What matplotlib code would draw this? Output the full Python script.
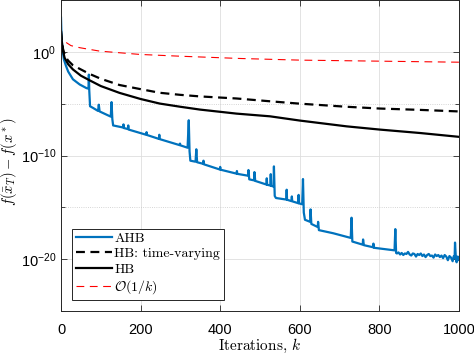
import matplotlib
matplotlib.use("Agg")
import matplotlib.pyplot as plt
import numpy as np
from matplotlib.ticker import FixedLocator, FixedFormatter, NullFormatter

plt.rcParams["mathtext.fontset"] = "cm"

# AHB: iteration and log10 of the gap (spikes included)
ahb_k = [0, 1, 3, 7, 12, 18, 30, 47, 64, 69, 70, 71, 73, 80, 93, 95, 97,
         125, 127, 129, 131, 156, 157, 158, 168, 169, 170, 214, 215, 216,
         246, 247, 248, 298, 299, 300, 318, 321, 323, 325, 338, 340, 342,
         357, 358, 359, 399, 400, 401, 441, 442, 443, 470, 471, 473, 485,
         486, 488, 516, 517, 518, 526, 527, 528, 534, 535, 537, 540, 566,
         567, 568, 579, 580, 581, 596, 597, 598, 606, 608, 610, 613, 626,
         627, 629, 645, 646, 648, 684, 728, 730, 732, 758, 759, 761, 784,
         785, 786, 838, 840, 842,
         844, 848, 852, 856, 860, 864, 868, 872, 876, 880, 884, 888, 892,
         896, 900, 904, 908, 912, 916, 920, 924, 928, 932, 936, 940, 944,
         948, 952, 956, 960, 964, 968, 972, 976, 980, 984, 987, 989, 990,
         992, 994, 996, 998, 1000]
ahb_log = [3.3, 1.9, 0.5, -0.7, -1.3, -1.9, -2.65, -3.15, -3.5, -3.55, -2.2,
           -3.7, -5.25, -5.4, -5.7, -5.1, -5.75,
           -6.25, -4.85, -6.5, -7.1, -7.3, -7.0, -7.35, -7.45, -7.1, -7.5,
           -8.0, -7.75, -8.02,
           -8.4, -8.0, -8.42, -9.0, -8.85, -9.02, -9.25, -6.6, -9.6, -10.5,
           -10.6, -9.4, -10.65,
           -10.8, -10.5, -10.85, -11.35, -11.1, -11.37, -11.75, -11.5, -11.77,
           -11.95, -11.4, -12.3, -12.4,
           -11.6, -12.45, -12.8, -12.2, -12.82, -12.9, -11.8, -12.92, -13.0,
           -11.05, -13.9, -14.1, -14.25,
           -13.3, -14.27, -14.4, -13.95, -14.42, -14.6, -13.8, -14.62, -14.7,
           -12.27, -15.5, -16.2, -16.4,
           -15.2, -16.6, -16.9, -16.4, -17.2, -17.5, -17.95, -16.0, -18.3,
           -18.6, -18.1, -18.65, -18.85,
           -18.5, -18.9, -19.15, -17.1, -19.4,
           -19.45, -19.35, -19.55, -19.4, -19.6, -19.45, -19.5, -19.3, -19.55,
           -19.65, -19.45, -19.5, -19.75,
           -19.5, -19.6, -19.45, -19.7, -19.55, -19.8, -19.6, -19.5, -19.7,
           -19.65, -19.85, -19.55, -19.7,
           -19.6, -19.8, -19.65, -19.9, -19.6, -19.75, -20.1, -19.7, -19.85,
           -20.2, -19.7, -19.9, -18.4,
           -19.8, -20.3, -19.75, -20.1, -19.8]

# HB with time-varying parameters
hbtv_k = [0, 2, 5, 10, 18, 30, 50, 70, 100, 147, 200, 248, 300, 349, 441,
          525, 600, 718, 801, 902, 1000]
hbtv_log = [2.0, 1.2, 0.3, -0.4, -0.85, -1.3, -1.7, -2.1, -2.6, -3.2, -3.6,
            -3.95, -4.15, -4.3, -4.5, -4.77, -5.0, -5.3, -5.47, -5.6, -5.75]

# HB
hb_k = [0, 2, 5, 9, 18, 30, 50, 72, 100, 147, 200, 248, 300, 349, 441, 525,
        600, 718, 801, 902, 1000]
hb_log = [2.0, 1.0, 0.1, -0.57, -1.2, -1.7, -2.3, -2.75, -3.3, -3.96, -4.55,
          -4.99, -5.3, -5.57, -5.96, -6.22, -6.63, -7.19, -7.5, -7.83, -8.2]

# O(1/k) reference
ref_k = [13, 25, 47, 97, 198, 298, 449, 600, 801, 1000]
ref_log = [0.9, 0.6, 0.4, 0.07, -0.25, -0.42, -0.64, -0.8, -0.9, -1.0]

major_y = [1e-20, 1e-10, 1e0]
major_y_labels = [r"$\mathregular{10^{-20}}$", r"$\mathregular{10^{-10}}$",
                  r"$\mathregular{10^{0}}$"]
minor_y = [1e-25, 1e-15, 1e-5, 1e5]

serif = ["cmr10", "DejaVu Serif"]

fig = plt.figure(figsize=(4.74, 3.55), dpi=100)
ax = fig.add_axes([61 / 474, 44 / 355, 398 / 474, 311 / 355])

ax.plot(ahb_k, 10.0 ** np.array(ahb_log), color="#0072BD", lw=1.6,
        label="AHB")
ax.plot(hbtv_k, 10.0 ** np.array(hbtv_log), color="black", lw=1.6,
        ls=(0, (4, 2.5)), label="HB: time-varying")
ax.plot(hb_k, 10.0 ** np.array(hb_log), color="black", lw=1.6, label="HB")
ax.plot(ref_k, 10.0 ** np.array(ref_log), color="red", lw=0.8,
        ls=(0, (7, 5)), label=r"$\mathcal{O}(1/k)$")

ax.set_yscale("log")
ax.set_xlim(0, 1000)
ax.set_ylim(1e-25, 1e5)
ax.set_xticks([0, 200, 400, 600, 800, 1000])
ax.yaxis.set_major_locator(FixedLocator(major_y))
ax.yaxis.set_major_formatter(FixedFormatter(major_y_labels))
ax.yaxis.set_minor_locator(FixedLocator(minor_y))
ax.yaxis.set_minor_formatter(NullFormatter())

ax.grid(True, which="major", color="#dedede", lw=0.6)
ax.grid(True, which="minor", axis="y", color="#c8c8c8", lw=0.6, ls=":")
ax.set_axisbelow(True)

ax.tick_params(which="both", direction="in", top=True, right=True,
               colors="#262626", labelcolor="black", labelsize=10.5,
               width=0.6)
ax.tick_params(which="major", length=4)
ax.tick_params(which="minor", length=3)
ax.tick_params(axis="x", pad=8.5)
for lbl in ax.get_xticklabels() + ax.get_yticklabels():
    lbl.set_family("Liberation Sans")
for sp in ax.spines.values():
    sp.set_color("#262626")
    sp.set_linewidth(0.7)

ax.set_xlabel("Iterations, $k$", family=serif, fontsize=11, labelpad=0.3)
ax.set_ylabel(r"$f(\bar{x}_T) - f(x^*)$", fontsize=10.5)
ax.yaxis.set_label_coords(-0.105, 0.48)

leg = ax.legend(loc="lower left", prop={"family": serif, "size": 10},
                fancybox=False, edgecolor="#262626", framealpha=1,
                handlelength=2.6, handletextpad=0.2, borderpad=0.25,
                labelspacing=0.2, borderaxespad=0.8)
leg.get_frame().set_linewidth(0.7)

fig.savefig("out.png", dpi=100)
